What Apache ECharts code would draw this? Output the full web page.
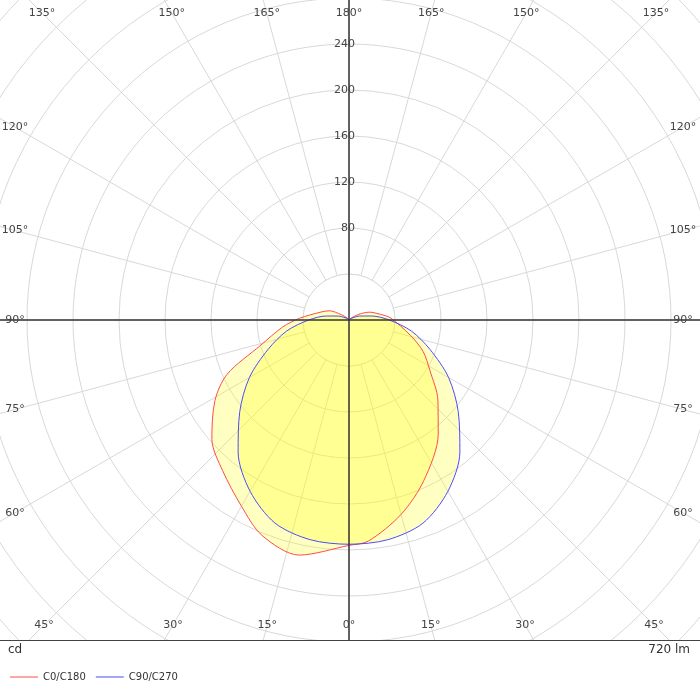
<!DOCTYPE html>
<html>
<head>
<meta charset="utf-8">
<script src="https://cdn.jsdelivr.net/npm/echarts@6/dist/echarts.min.js"></script>
</head>
<body style="margin:0">
<div id="c" style="width:700px;height:700px;"></div>
<script>
// gamma angle (deg from nadir) and intensity in cd
var redLeftAng  = [0, 12, 22, 30, 40, 49, 59, 66, 74, 84, 92, 105, 115, 125, 140, 180]
var redLeftVal  = [196, 209, 202, 187, 171, 158, 136, 116, 80, 58, 43, 26, 19, 8, 2, 0]
var redRightAng = [0, 5, 15, 25, 38, 48, 58, 67, 76, 93, 100, 111, 120, 130, 180]
var redRightVal = [196, 193, 175, 154, 126, 104, 83, 70, 55, 36, 28, 19, 10, 3, 0]
var blueAng = [0, 10, 20, 30, 40, 50, 60, 70, 80, 90, 100, 110, 120, 135, 180]
var blueVal = [195, 194, 188, 172, 150, 124, 100, 75, 55, 35, 20, 10, 4, 1, 0]
var radiusLabels = [80, 120, 160, 200, 240]
var angleTicks = [0, 15, 30, 45, 60, 75, 90, 105, 120, 135, 150, 165, 180]

var cx = 349, cy = 320, k = 1.15, rMax = 440

function build(lAng, lVal, rAng, rVal) {
  var d = []
  for (var i = lAng.length - 1; i >= 0; i--) d.push([lVal[i], lAng[i]])
  for (var j = 0; j < rAng.length; j++) d.push([rVal[j], 360 - rAng[j]])
  return d
}

var graphics = []
// inner disc hides spokes inside the first ring
graphics.push({type: 'circle', z: 1, shape: {cx: cx, cy: cy, r: 40 * k},
  style: {fill: '#fff', stroke: '#d8d8d8', lineWidth: 1}})
// edge angle labels
angleTicks.forEach(function (a) {
  var rad = a * Math.PI / 180
  var sides = a === 0 || a === 180 ? [1] : [-1, 1]
  sides.forEach(function (s) {
    var dx = s * Math.sin(rad), dy = Math.cos(rad)
    var t = 1e9
    if (dy > 1e-6) t = Math.min(t, 305 / dy)
    if (dy < -1e-6) t = Math.min(t, 307 / -dy)
    if (Math.abs(dx) > 1e-6) t = Math.min(t, 334 / Math.abs(dx))
    graphics.push({type: 'text', x: cx + dx * t, y: cy + dy * t, z: 60,
      style: {text: a + '°', fill: '#444', font: '11px "DejaVu Sans"', align: 'center', verticalAlign: 'middle'}})
  })
})
radiusLabels.forEach(function (v) {
  graphics.push({type: 'text', x: cx + 6, y: cy - v * k, z: 60,
    style: {text: String(v), fill: '#444', font: '11px "DejaVu Sans"', align: 'right', verticalAlign: 'middle'}})
})
graphics.push(
  {type: 'line', z: 40, shape: {x1: 0, y1: cy, x2: 700, y2: cy}, style: {stroke: '#333', lineWidth: 1.5}},
  {type: 'line', z: 40, shape: {x1: cx, y1: 0, x2: cx, y2: 640}, style: {stroke: '#333', lineWidth: 1.5}},
  {type: 'rect', z: 50, shape: {x: 0, y: 640, width: 700, height: 60}, style: {fill: '#fff'}},
  {type: 'line', z: 55, shape: {x1: 0, y1: 640.5, x2: 700, y2: 640.5}, style: {stroke: '#444', lineWidth: 1}},
  {type: 'text', z: 60, x: 8, y: 650, style: {text: 'cd', fill: '#333', font: '12px "DejaVu Sans"', verticalAlign: 'middle'}},
  {type: 'text', z: 60, x: 690, y: 650, style: {text: '720 lm', fill: '#333', font: '12px "DejaVu Sans"', align: 'right', verticalAlign: 'middle'}}
)

var chart = echarts.init(document.getElementById('c'))
chart.setOption({
  animation: false,
  polar: {center: [cx, cy], radius: rMax * k},
  angleAxis: {
    type: 'value', min: 0, max: 360, interval: 15, startAngle: 270, clockwise: true,
    axisLine: {show: false}, axisTick: {show: false}, axisLabel: {show: false},
    splitLine: {lineStyle: {color: '#d8d8d8'}}
  },
  radiusAxis: {
    type: 'value', min: 0, max: rMax, interval: 40,
    axisLine: {show: false}, axisTick: {show: false}, axisLabel: {show: false},
    splitLine: {lineStyle: {color: '#d8d8d8'}}
  },
  legend: {
    orient: 'vertical', left: 5, top: 667, itemWidth: 28, itemHeight: 1, itemGap: 10, z: 100,
    icon: 'rect',
    textStyle: {fontSize: 10, color: '#333', fontFamily: 'DejaVu Sans'},
    data: ['C0/C180', 'C90/C270']
  },
  graphic: graphics,
  series: [
    {name: 'C0/C180', type: 'line', coordinateSystem: 'polar', symbol: 'none', smooth: 0.3, z: 3,
      data: build(redLeftAng, redLeftVal, redRightAng, redRightVal),
      lineStyle: {color: '#ff4a4a', width: 1}, itemStyle: {color: '#ff4a4a'},
      areaStyle: {color: 'rgba(255,255,0,0.35)'}},
    {name: 'C90/C270', type: 'line', coordinateSystem: 'polar', symbol: 'none', smooth: 0.3, z: 3,
      data: build(blueAng, blueVal, blueAng, blueVal),
      lineStyle: {color: '#4a4aff', width: 1}, itemStyle: {color: '#4a4aff'},
      areaStyle: {color: 'rgba(255,255,0,0.35)'}}
  ]
})
</script>
</body>
</html>
